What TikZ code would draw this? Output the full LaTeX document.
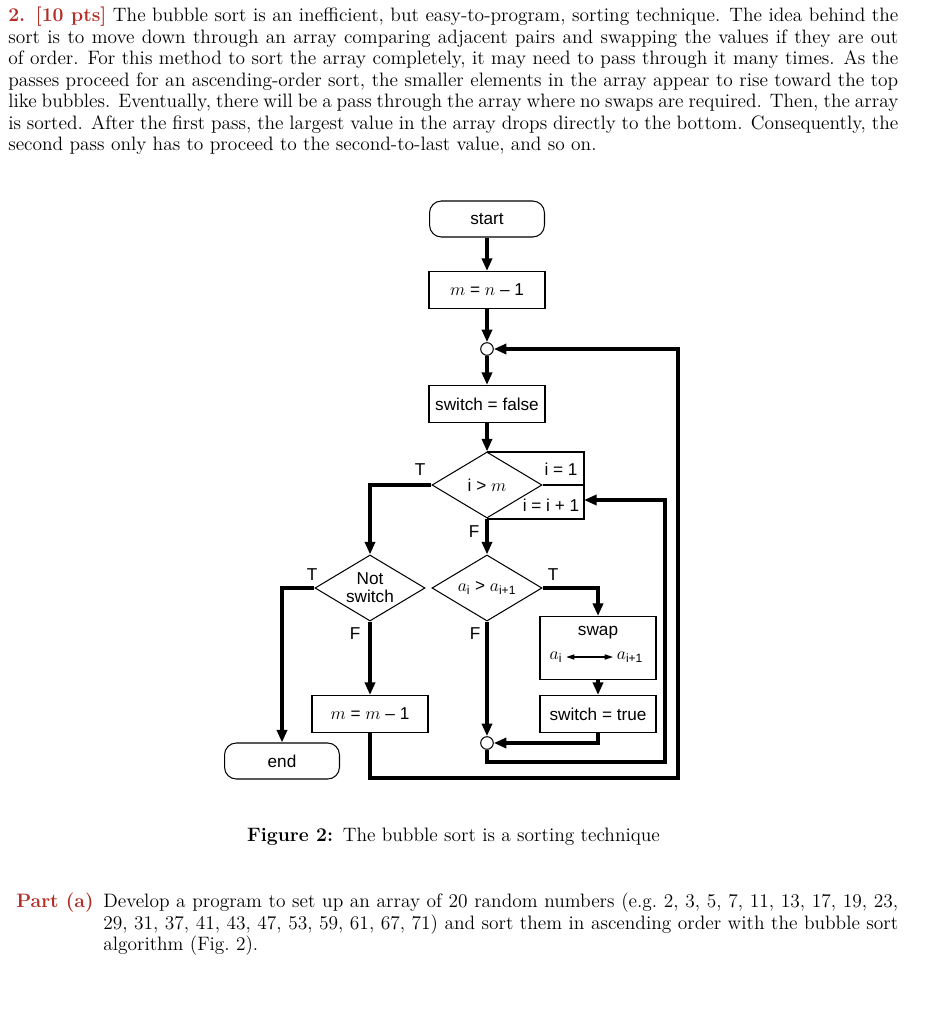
\documentclass[tikz,border=0pt]{standalone}
\usepackage{fontspec}
\newfontfamily\flowfont{Liberation Sans}
\usetikzlibrary{arrows.meta,shapes.geometric}
\definecolor{partred}{RGB}{178,45,38}
\newcommand{\bodyfont}{\fontsize{13.1}{14.5}\selectfont}
\newcommand{\chartfont}{\flowfont\fontsize{11.6}{12.3}\selectfont}
\tikzset{
  flowline/.style={line width=2.6pt, -{Triangle[length=8.5pt,width=6.8pt]}},
  terminal/.style={draw, line width=0.7pt, rounded corners=8pt, minimum width=77.6pt, minimum height=24.3pt, inner sep=0pt, font=\chartfont},
  process/.style={draw, line width=0.7pt, minimum width=78.3pt, minimum height=25pt, inner sep=0pt, font=\chartfont},
  decision/.style={draw, line width=0.7pt, diamond, aspect=1.67, minimum width=74.3pt, minimum height=44.6pt, inner sep=0pt, font=\chartfont, align=center},
  joint/.style={draw, circle, line width=0.7pt, fill=white, minimum size=8.5pt, inner sep=0pt},
  branch/.style={font=\chartfont, inner sep=0pt},
}

\begin{document}
\begin{tikzpicture}[x=0.675pt, y=-0.675pt]
  \useasboundingbox (0,0) rectangle (932,1024);

  %%%%% TEXT %%%%%

  \node[anchor=north west, inner sep=0pt, text width=600.75pt, align=justify, font=\bodyfont] (intro) at (8,7)
    {\textcolor{partred}{\textbf{2. [10 pts]}} The bubble sort is an inefficient, but easy-to-program, sorting technique. The idea behind the\linebreak
     sort is to move down through an array comparing adjacent pairs and swapping the values if they are out\linebreak
     of order. For this method to sort the array completely, it may need to pass through it many times. As the\linebreak
     passes proceed for an ascending-order sort, the smaller elements in the array appear to rise toward the top\linebreak
     like bubbles. Eventually, there will be a pass through the array where no swaps are required. Then, the array\linebreak
     is sorted. After the first pass, the largest value in the array drops directly to the bottom. Consequently, the\linebreak
     second pass only has to proceed to the second-to-last value, and so on.};

  %%%%% FLOWCHART %%%%%

  \node[terminal] (start) at (487,219) {start};
  \node[process] (mn) at (487,290) {$m$ = $n$ – 1};
  \node[joint] (j1) at (487,349) {};
  \node[process] (swf) at (487,404) {switch = false};

  \draw[line width=0.7pt] (487,452) -- (584,452) -- (584,519) -- (487,519);
  \draw[line width=0.7pt] (543,485) -- (584,485);
  \node[decision, fill=white] (d1) at (487,485) {i > $m$};
  \node[branch] (i1) at (561,469) {i = 1};
  \node[branch] (ii) at (551,505) {i = i + 1};
  \coordinate (loopin) at (584,500);

  \node[decision] (ns) at (370,588) {Not\\switch};
  \node[decision] (d2) at (487,588) {$a$\textsubscript{i} > $a$\textsubscript{i+1}};

  \node[process, minimum height=42.5pt] (swap) at (598,648) {};
  \node[branch] (swaplbl) at (598,633) {swap};
  \node[branch] (ai) at (556,657) {$a$\textsubscript{i}};
  \node[branch] (aii) at (630,657) {$a$\textsubscript{i+1}};
  \draw[line width=0.7pt, shorten <=2.5pt, shorten >=2.5pt, {Triangle[length=5.5pt,width=3.5pt]}-{Triangle[length=5.5pt,width=3.5pt]}] (ai) -- (aii);

  \node[process] (mm) at (370,714) {$m$ = $m$ – 1};
  \node[process] (swt) at (598,714) {switch = true};
  \node[joint] (j2) at (487,743) {};
  \node[terminal] (end) at (282,761) {end};

  \node[branch] (t1) at (420,470) {T};
  \node[branch] (f1) at (474,532) {F};
  \node[branch] (t2) at (312,575) {T};
  \node[branch] (f2) at (355,634) {F};
  \node[branch] (t3) at (553,575) {T};
  \node[branch] (f3) at (475,634) {F};

  \coordinate (outer) at (678,778);
  \coordinate (inner) at (665,762);

  \draw[flowline] (start) -- (mn);
  \draw[flowline] (mn) -- (j1);
  \draw[flowline] (j1) -- (swf);
  \draw[flowline] (swf) -- (d1);
  \draw[flowline] (d1.west) -| (ns.north);
  \draw[flowline] (d1.south) -- (d2.north);
  \draw[flowline] (ns.west) -| (end.north);
  \draw[flowline] (ns.south) -- (mm.north);
  \draw[flowline] (mm.south) |- (outer) |- (j1.east);
  \draw[flowline] (d2.east) -| (swap.north);
  \draw[flowline] (d2.south) -- (j2.north);
  \draw[flowline] (swap) -- (swt);
  \draw[flowline] (swt.south) |- (j2.east);
  \draw[flowline] (j2.south) |- (inner) |- (loopin);

  %%%%% CAPTION %%%%%

  \node[anchor=base, inner sep=0pt, font=\bodyfont] (caption) at (453.5,841)
    {\textbf{Figure 2:}\enspace The bubble sort is a sorting technique};

  \node[anchor=north west, inner sep=0pt, font=\bodyfont] (parta) at (16,893)
    {\textcolor{partred}{\textbf{Part (a)}}};
  \node[anchor=north west, inner sep=0pt, text width=536.6pt, align=justify, font=\bodyfont] (task) at (103,893)
    {Develop a program to set up an array of 20 random numbers (e.g.\ 2, 3, 5, 7, 11, 13, 17, 19, 23,\linebreak
     29, 31, 37, 41, 43, 47, 53, 59, 61, 67, 71) and sort them in ascending order with the bubble sort\linebreak
     algorithm (Fig.~2).};
\end{tikzpicture}
\end{document}
